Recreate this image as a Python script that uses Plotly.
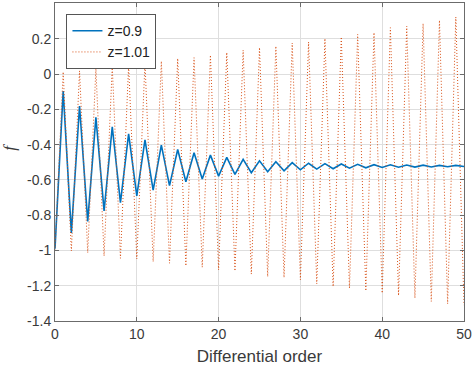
import plotly.graph_objects as go

order = list(range(0, 51))

f_z09 = [-0.99, -0.095, -0.90, -0.18, -0.835, -0.245, -0.775, -0.298, -0.728, -0.338,
         -0.69, -0.372, -0.657, -0.402, -0.632, -0.427, -0.61, -0.446, -0.595, -0.459,
         -0.578, -0.472, -0.568, -0.483, -0.559, -0.491, -0.553, -0.497, -0.548, -0.502,
         -0.542, -0.505, -0.538, -0.507, -0.536, -0.509, -0.533, -0.511, -0.531, -0.513,
         -0.529, -0.514, -0.528, -0.515, -0.527, -0.516, -0.526, -0.517, -0.525, -0.517,
         -0.524]

f_z101 = [-1.0, 0.013, -1.002, 0.019, -1.012, 0.032, -1.031, 0.045, -1.044, 0.049,
          -1.048, 0.066, -1.063, 0.074, -1.072, 0.089, -1.087, 0.094, -1.095, 0.108,
          -1.11, 0.123, -1.116, 0.136, -1.134, 0.151, -1.148, 0.159, -1.153, 0.177,
          -1.166, 0.183, -1.189, 0.202, -1.204, 0.211, -1.214, 0.226, -1.229, 0.236,
          -1.242, 0.264, -1.255, 0.272, -1.27, 0.287, -1.289, 0.306, -1.302, 0.325,
          -1.31]

x_ticks = [0, 10, 20, 30, 40, 50]
y_ticks = [-1.4, -1.2, -1.0, -0.8, -0.6, -0.4, -0.2, 0.0, 0.2]
y_ticktext = ["-1.4", "-1.2", "-1", "-0.8", "-0.6", "-0.4", "-0.2", "0", "0.2"]

FONT = "Liberation Sans, Arial, sans-serif"

fig = go.Figure()
fig.add_trace(go.Scatter(x=order, y=f_z09, mode="lines", name="z=0.9",
                         line=dict(color="#0072BD", width=1.6)))
fig.add_trace(go.Scatter(x=order, y=f_z101, mode="lines", name="z=1.01",
                         line=dict(color="#D95319", width=1, dash="1px,2px")))

axis_common = dict(showline=True, linecolor="#6b6b6b", linewidth=1, mirror="ticks",
                   ticks="inside", ticklen=4, tickcolor="#6b6b6b",
                   showgrid=True, gridcolor="#dedede", gridwidth=1, zeroline=False,
                   tickfont=dict(family=FONT, size=14, color="#3a3a3a"))

fig.update_layout(
    width=474, height=368,
    margin=dict(l=55, r=10, t=3, b=47),
    paper_bgcolor="white", plot_bgcolor="white",
    xaxis=dict(range=[0, 50], tickvals=x_ticks,
               title=dict(text="Differential order", standoff=9,
                          font=dict(family=FONT, size=17, color="#3a3a3a")),
               **axis_common),
    yaxis=dict(range=[-1.4, 0.404], tickvals=y_ticks, ticktext=y_ticktext, **axis_common),
    legend=dict(x=0.028, y=0.965, xanchor="left", yanchor="top",
                bgcolor="white", bordercolor="#555555", borderwidth=1,
                font=dict(family=FONT, size=14, color="#222222"),
                tracegroupgap=0, itemwidth=30),
    showlegend=True,
)

fig.add_annotation(text="<i>f</i>", xref="paper", yref="paper", x=-0.11, y=0.545,
                   xanchor="center", yanchor="middle",
                   showarrow=False, textangle=-90,
                   font=dict(family="Liberation Serif, Times New Roman, serif", size=17, color="#3a3a3a"))

fig.write_html("out.html", config={"displayModeBar": False},
               post_script="document.body.style.margin='0';document.body.style.overflow='hidden';")
